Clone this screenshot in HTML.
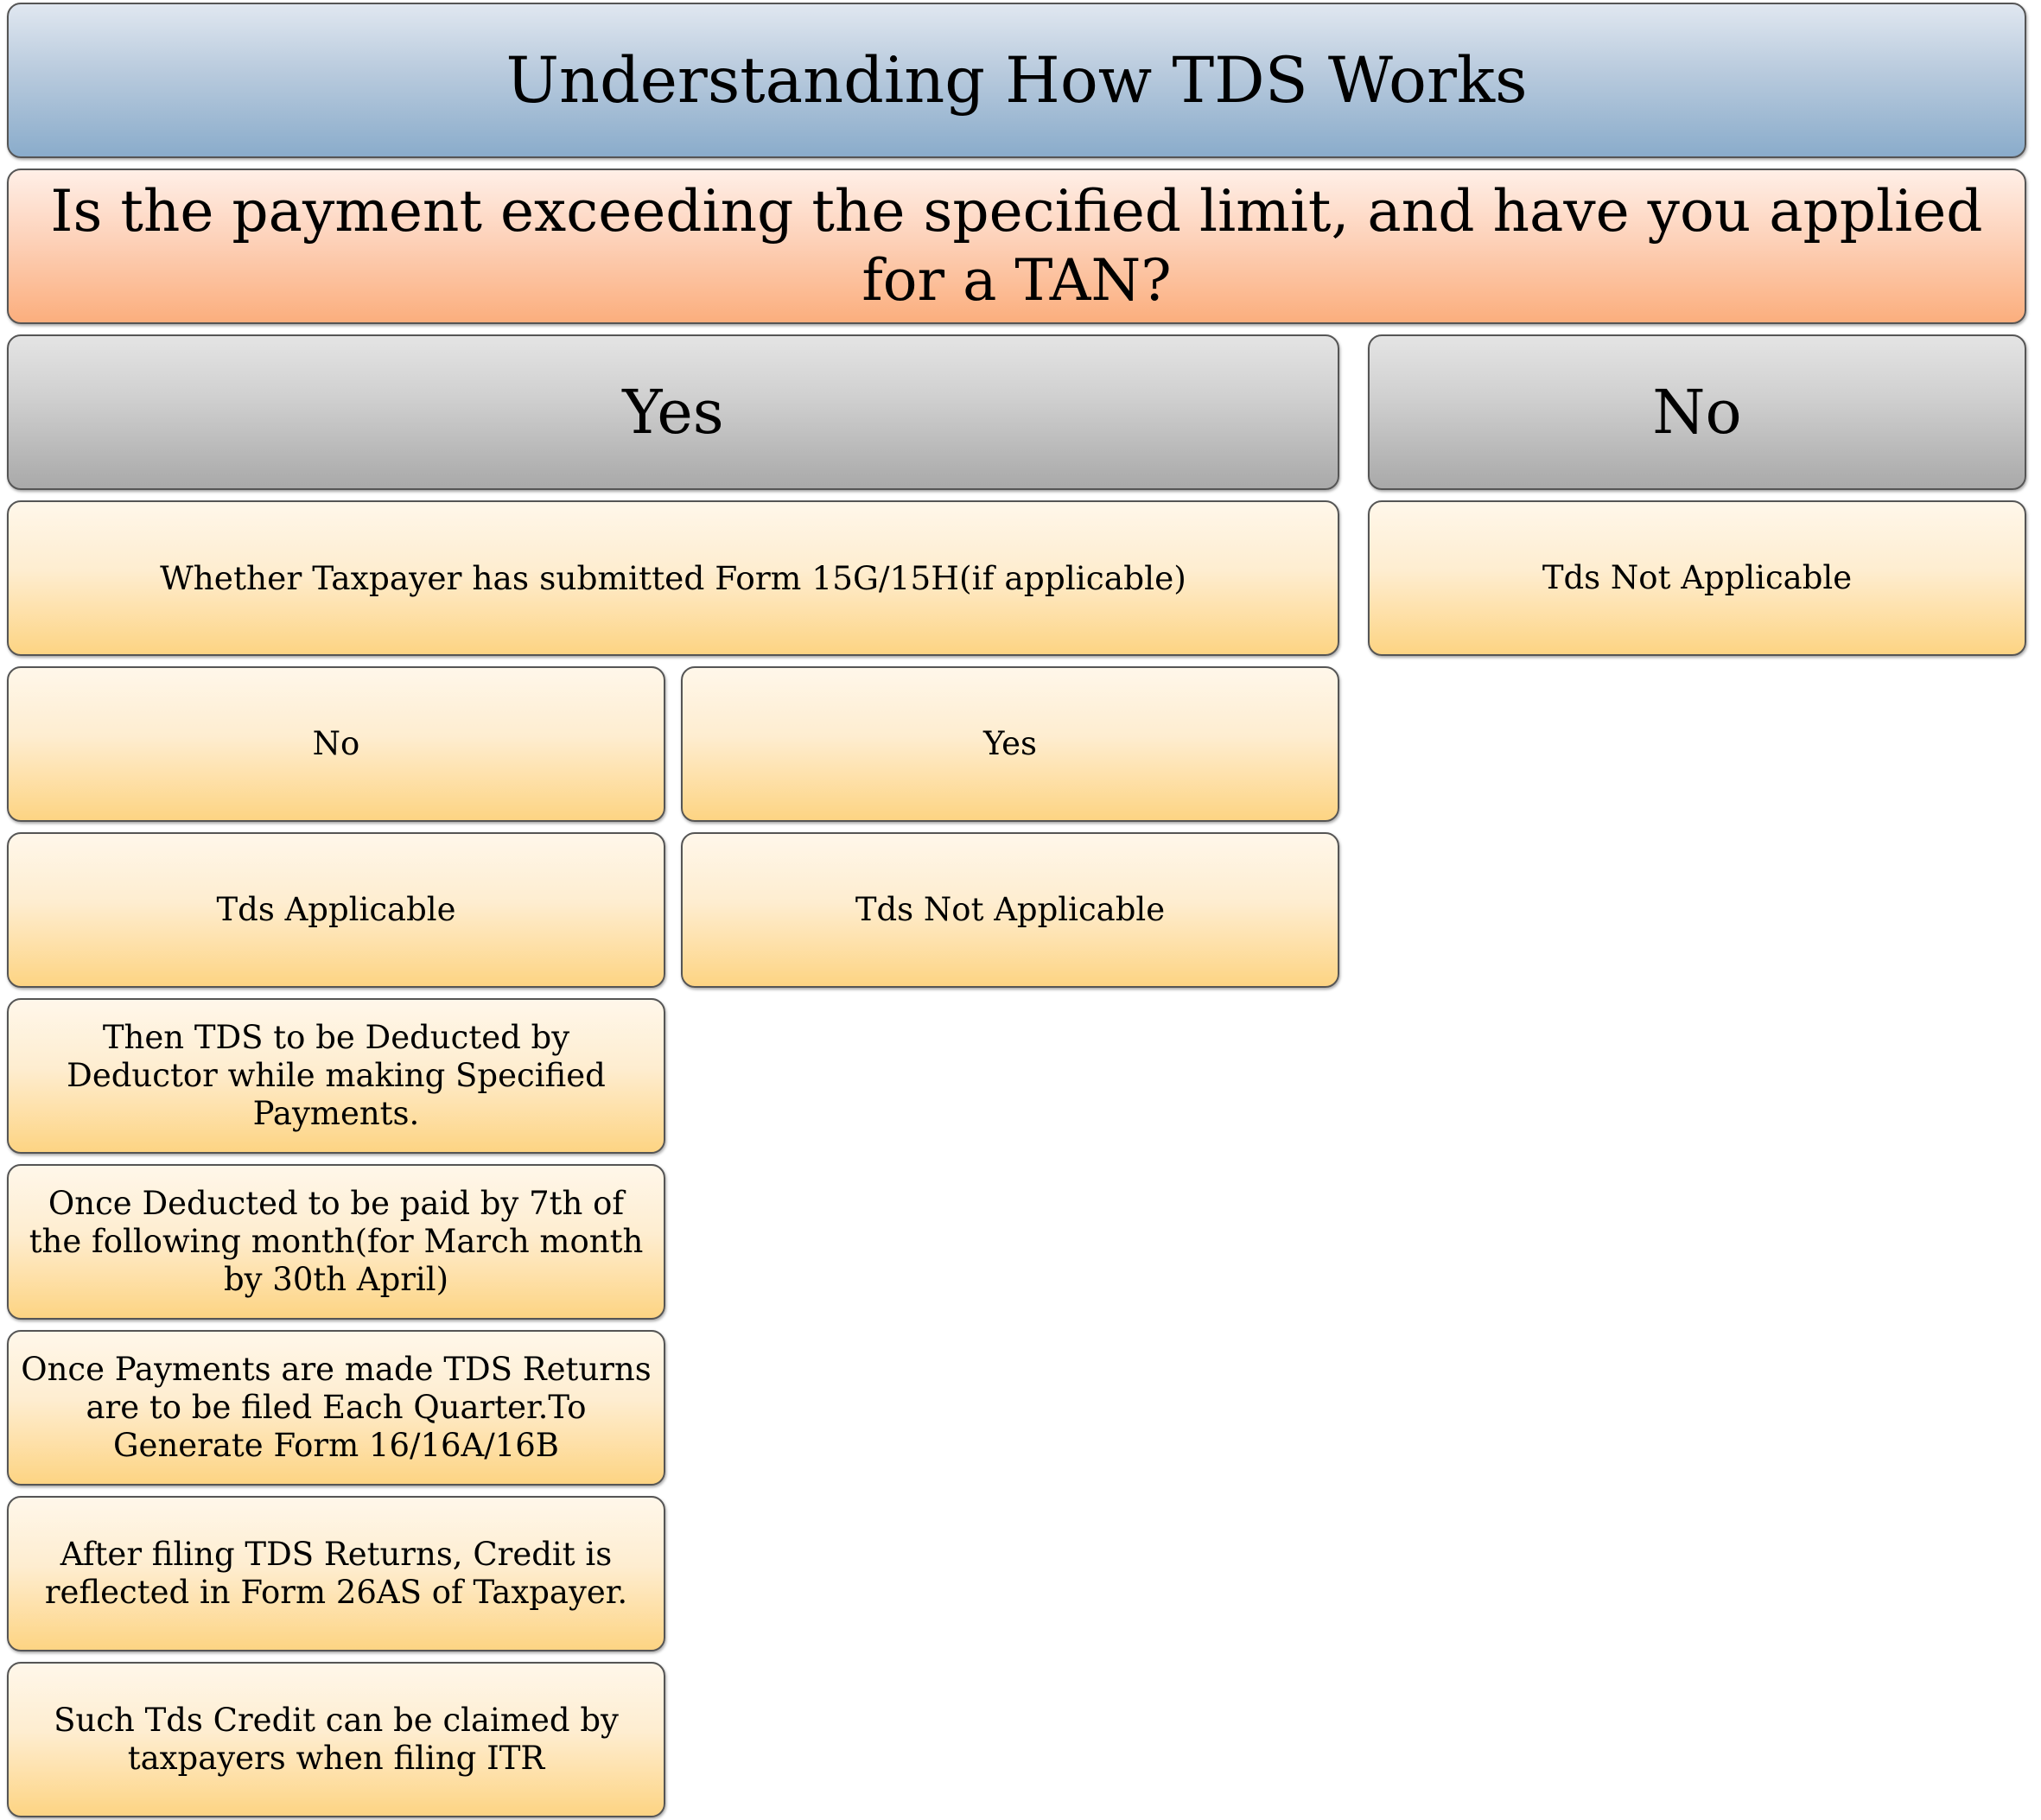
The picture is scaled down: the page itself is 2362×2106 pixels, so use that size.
<!DOCTYPE html>
<html><head><meta charset="utf-8"><style>
html,body{margin:0;padding:0;background:#fff;}
body{width:2362px;height:2106px;position:relative;overflow:hidden;font-family:"DejaVu Serif","Liberation Serif",serif;color:#000;}
.b{position:absolute;box-sizing:border-box;border:2px solid #555;border-radius:16px;display:flex;align-items:center;justify-content:center;text-align:center;white-space:nowrap;box-shadow:1px 2px 3px rgba(0,0,0,0.35);}
.y{background:linear-gradient(#fff7ea,#feedd0 45%,#fdd483);font-size:37px;line-height:44px;}
.g{background:linear-gradient(#e4e4e4,#d0d0d0 40%,#a9a9a9);font-size:70px;}
</style></head><body>
<div class="b" style="left:8px;top:3px;width:2337px;height:180px;background:linear-gradient(#e0e7f0,#b8cadd 45%,#8aaccb);font-size:73px;">Understanding How TDS Works</div>
<div class="b" style="left:8px;top:195px;width:2337px;height:180px;background:linear-gradient(#ffefe7,#fdd2ba 45%,#fbae7d);font-size:66px;line-height:80px;">Is the payment exceeding the specified limit, and have you applied<br>for a TAN?</div>
<div class="b g" style="left:8px;top:387px;width:1542px;height:180px;">Yes</div>
<div class="b g" style="left:1583px;top:387px;width:762px;height:180px;">No</div>
<div class="b y" style="left:8px;top:579px;width:1542px;height:180px;font-size:37.5px;">Whether Taxpayer has submitted Form 15G/15H(if applicable)</div>
<div class="b y" style="left:1583px;top:579px;width:762px;height:180px;">Tds Not Applicable</div>
<div class="b y" style="left:8px;top:771px;width:762px;height:180px;">No</div>
<div class="b y" style="left:788px;top:771px;width:762px;height:180px;">Yes</div>
<div class="b y" style="left:8px;top:963px;width:762px;height:180px;">Tds Applicable</div>
<div class="b y" style="left:788px;top:963px;width:762px;height:180px;">Tds Not Applicable</div>
<div class="b y" style="left:8px;top:1155px;width:762px;height:180px;">Then TDS to be Deducted by<br>Deductor while making Specified<br>Payments.</div>
<div class="b y" style="left:8px;top:1347px;width:762px;height:180px;">Once Deducted to be paid by 7th of<br>the following month(for March month<br>by 30th April)</div>
<div class="b y" style="left:8px;top:1539px;width:762px;height:180px;">Once Payments are made TDS Returns<br>are to be filed Each Quarter.To<br>Generate Form 16/16A/16B</div>
<div class="b y" style="left:8px;top:1731px;width:762px;height:180px;">After filing TDS Returns, Credit is<br>reflected in Form 26AS of Taxpayer.</div>
<div class="b y" style="left:8px;top:1923px;width:762px;height:180px;">Such Tds Credit can be claimed by<br>taxpayers when filing ITR</div>
</body></html>
